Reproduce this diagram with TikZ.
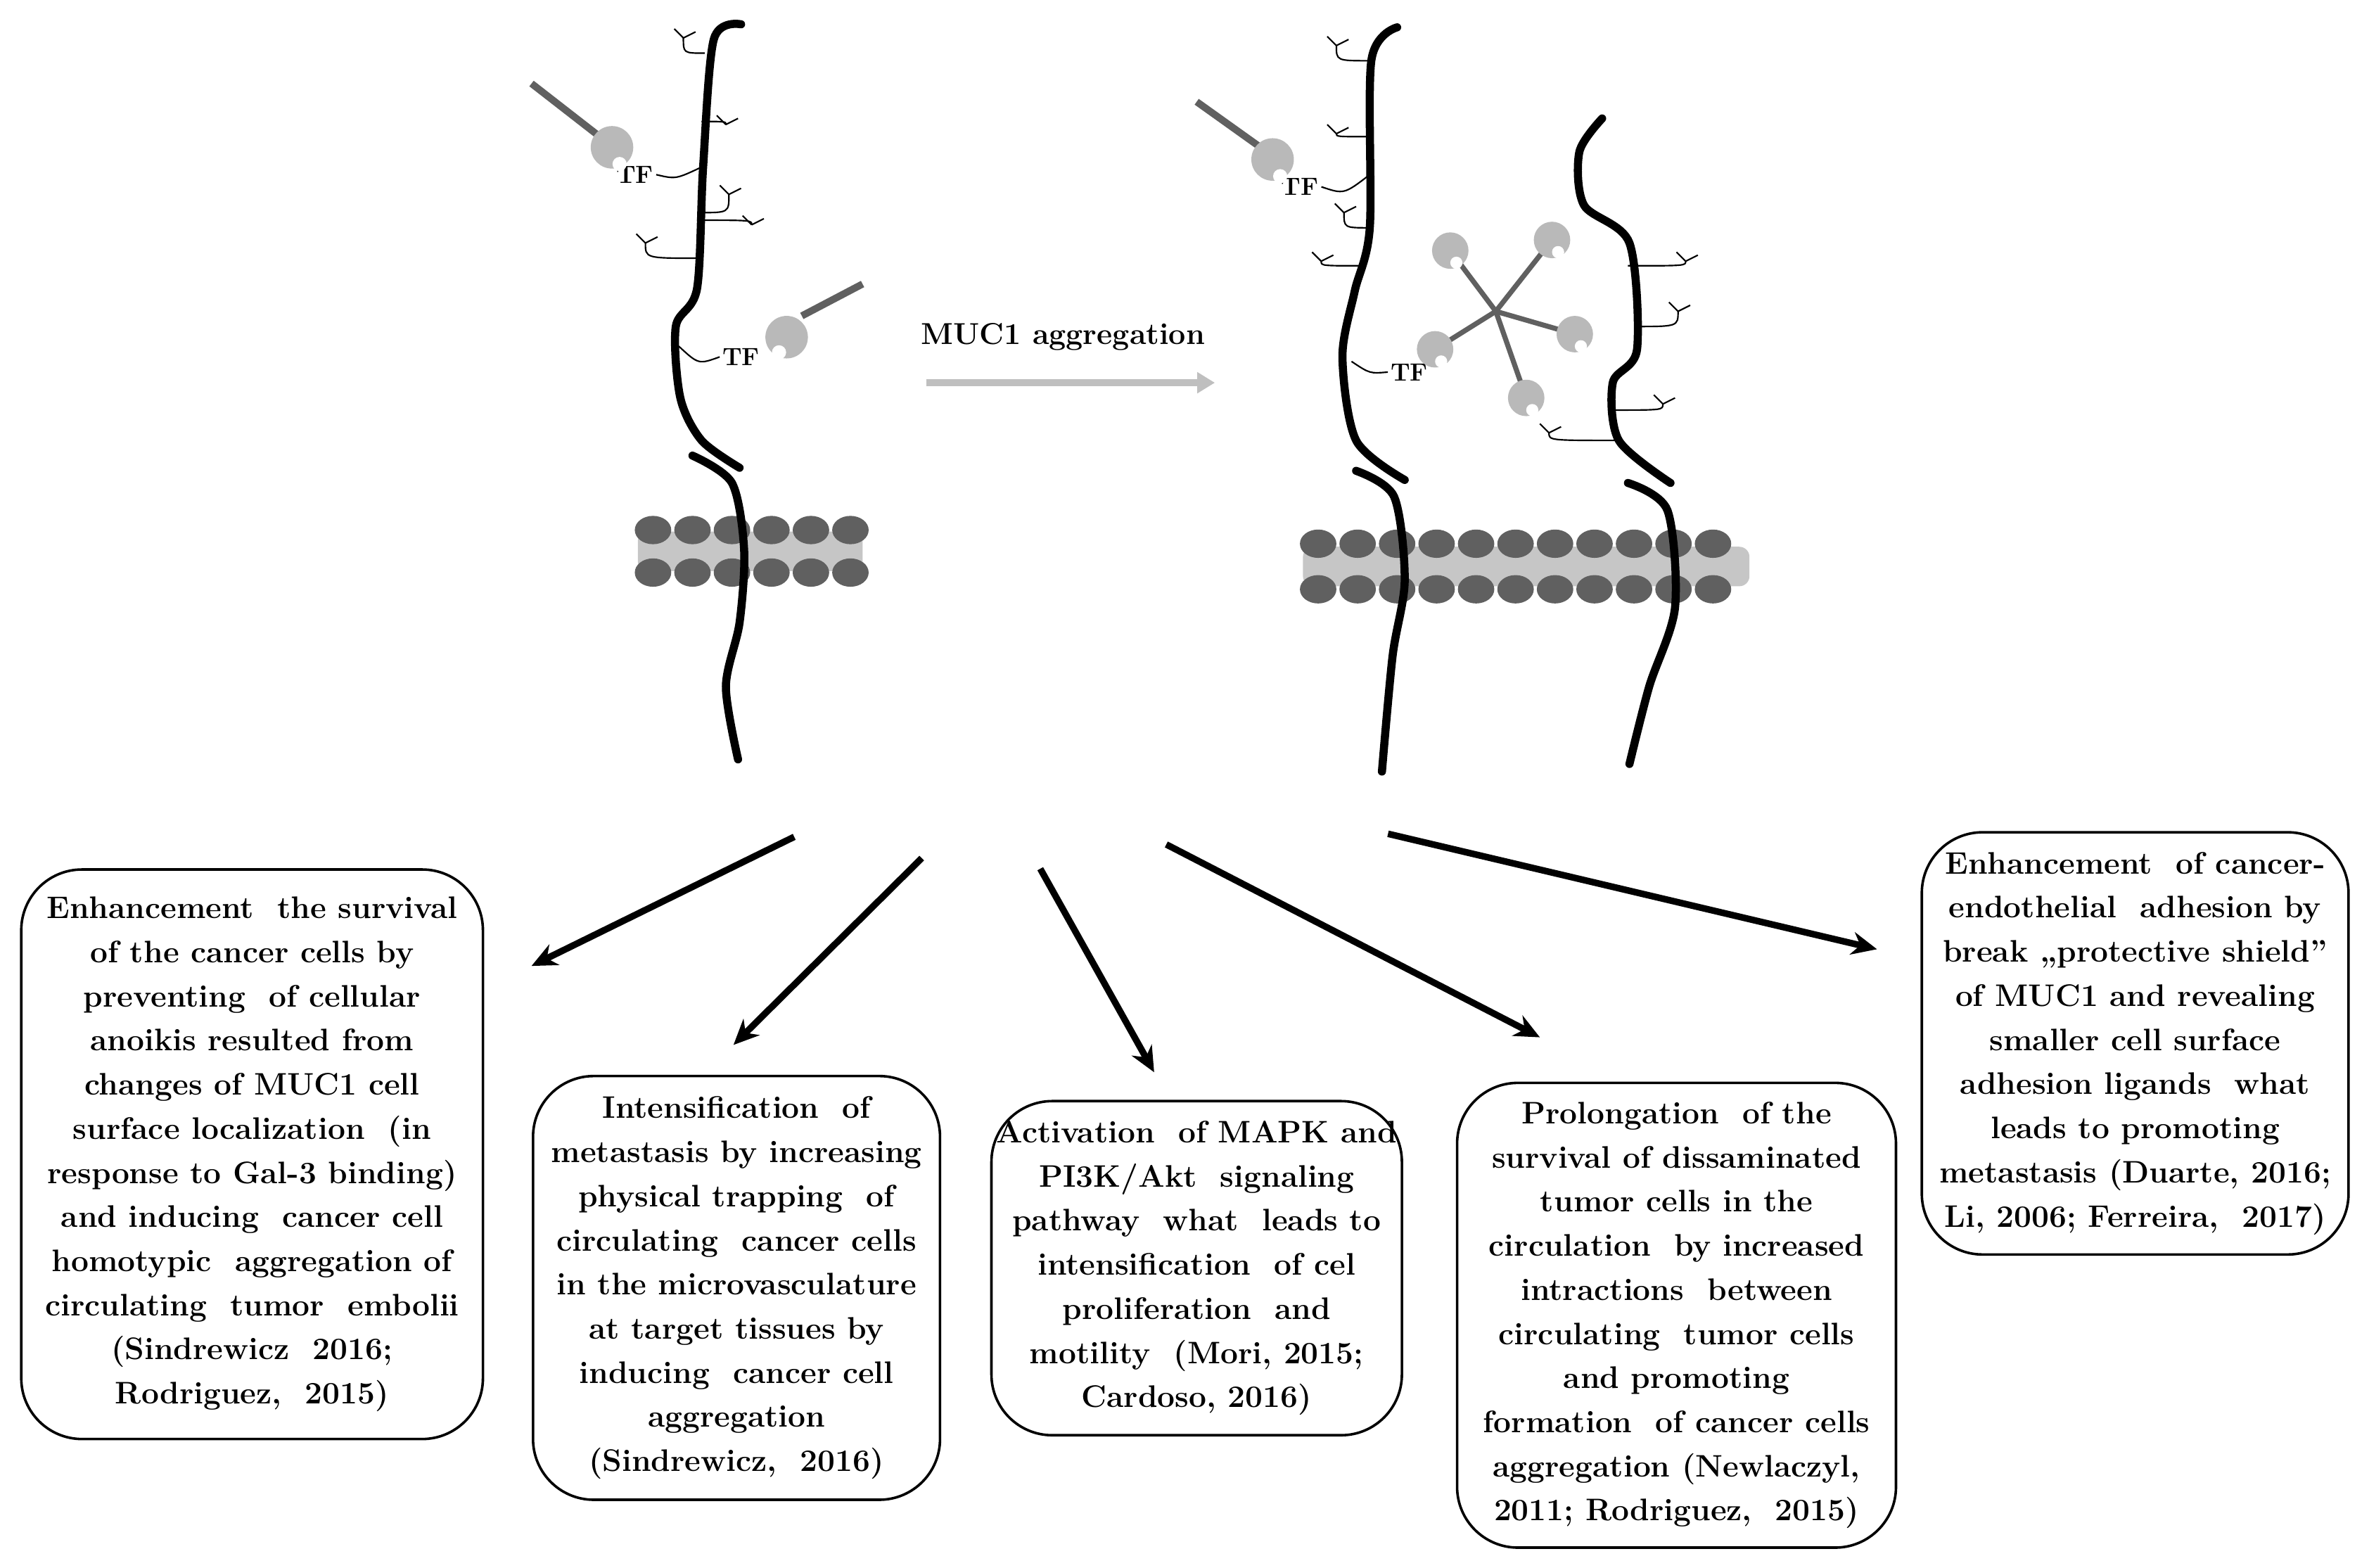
\documentclass[tikz,border=0pt]{standalone}
\usetikzlibrary{arrows.meta}
\begin{document}
\begin{tikzpicture}[x=0.3mm,y=-0.3mm,
 box/.style={draw,rounded corners=12mm,line width=0.5mm,align=center,font=\bfseries\fontsize{17.5}{24.8}\selectfont,inner sep=1mm},
 arr/.style={line width=1.3mm,-{Stealth[length=5mm,width=4.5mm]}},
 cell/.style={line width=1.6mm,line cap=round},
 br/.style={line width=0.3mm},
 blob/.style={fill=gray!55},
 stick/.style={gray!75!black,line width=1.4mm},
 lab/.style={font=\bfseries\fontsize{14}{16}\selectfont,inner sep=0.5mm}]
\useasboundingbox (0,0) rectangle (1560,1032);
% membranes
\fill[gray!45,rounded corners=2mm] (420,350) rectangle (568,376);
\fill[gray!45,rounded corners=2mm] (858,360) rectangle (1152,386);
\foreach \x in {430,456,...,560}{\fill[gray!75!black] (\x,349) ellipse (3.6mm and 2.8mm);\fill[gray!75!black] (\x,377) ellipse (3.6mm and 2.8mm);}
\foreach \x in {868,894,...,1140}{\fill[gray!75!black] (\x,358) ellipse (3.6mm and 2.8mm);\fill[gray!75!black] (\x,388) ellipse (3.6mm and 2.8mm);}
% cells
\draw[cell] plot[smooth] coordinates{(488,16)(470,26)(463,110)(459,190)(445,215)(448,262)(462,290)(487,308)};
\draw[cell] plot[smooth] coordinates{(456,300)(482,318)(490,362)(487,410)(478,452)(486,500)};
\draw[cell] plot[smooth] coordinates{(920,18)(903,40)(902,150)(892,192)(884,235)(893,290)(925,316)};
\draw[cell] plot[smooth] coordinates{(893,310)(918,327)(925,382)(917,432)(910,508)};
\draw[cell] plot[smooth] coordinates{(1055,78)(1040,100)(1043,135)(1073,160)(1078,230)(1062,252)(1066,290)(1100,318)};
\draw[cell] plot[smooth] coordinates{(1072,318)(1098,336)(1103,400)(1086,452)(1073,503)};
% branches
\foreach \a/\b/\c/\d in {464/35/450/25,462/80/478/82,461/140/480/128,459/170/425/160,459/145/495/148,902/40/880/30,902/90/880/88,902/150/885/140,897/175/870/172,1072/175/1110/172,1076/215/1105/205,1063/270/1095/266,1066/290/1020/285}
{\draw[br] (\a,\b) .. controls (\c,\b) .. (\c,\d); \draw[br] (\c,\d)--++(-6,-6) (\c,\d)--++(8,-4);}
% TF links
\node[lab] (tf1) at (418,115) {TF};
\draw[br] (462,110) .. controls (445,118) .. (tf1.east);
\node[lab] (tf2) at (488,235) {TF};
\draw[br] (447,228)..controls (460,240)..(tf2.west);
\node[lab] (tf3) at (856,123) {TF};
\draw[br] (902,115)..controls (885,128)..(tf3.east);
\node[lab] (tf4) at (928,245) {TF};
\draw[br] (890,238)..controls (902,246)..(tf4.west);
% glycoproteins
\draw[stick] (350,55)--(395,90); \fill[blob] (403,97) circle (4.2mm); \fill[white] (408,108) circle (1.4mm);
\draw[stick] (568,187)--(528,208); \fill[blob] (518,222) circle (4.2mm); \fill[white] (513,232) circle (1.4mm);
\draw[stick] (788,67)--(830,97); \fill[blob] (838,105) circle (4.2mm); \fill[white] (843,116) circle (1.4mm);
\foreach \x/\y in {955/165,1022/158,1037/220,945/230,1005/262}{
 \draw[gray!75!black,line width=1mm] (985,205)--(\x,\y); \fill[blob] (\x,\y) circle (3.6mm); \fill[white] (\x+4,\y+8) circle (1.2mm);}
% aggregation arrow
\node[font=\bfseries\fontsize{17}{20}\selectfont] (agg) at (700,222) {MUC1 aggregation};
\draw[gray!50,line width=1.4mm,-{Triangle[length=3.5mm,width=4mm]}] (610,252) -- (800,252);
% boxes
\node[box,minimum width=304*0.3mm,minimum height=375*0.3mm] (b1) at (166,760) {Enhancement\ \ the survival\\of the cancer cells by\\preventing\ \ of cellular\\anoikis resulted from\\changes of MUC1 cell\\surface localization\ \ (in\\response to Gal-3 binding)\\and inducing\ \ cancer cell\\homotypic\ \ aggregation of\\circulating\ \ tumor\ \ embolii\\(Sindrewicz\ \ 2016;\\Rodriguez,\ \ 2015)};
\node[box,minimum width=268*0.3mm,minimum height=279*0.3mm] (b2) at (485,848) {Intensification\ \ of\\metastasis by increasing\\physical trapping\ \ of\\circulating\ \ cancer cells\\in the microvasculature\\at target tissues by\\inducing\ \ cancer cell\\aggregation\\(Sindrewicz,\ \ 2016)};
\node[box,minimum width=266*0.3mm,minimum height=220*0.3mm] (b3) at (788,835) {Activation\ \ of MAPK and\\PI3K/Akt\ \ signaling\\pathway\ \ what\ \ leads to\\intensification\ \ of cel\\proliferation\ \ and\\motility\ \ (Mori, 2015;\\Cardoso, 2016)};
\node[box,minimum width=289*0.3mm,minimum height=306*0.3mm] (b4) at (1104,866) {Prolongation\ \ of the\\survival of dissaminated\\tumor cells in the\\circulation\ \ by increased\\intractions\ \ between\\circulating\ \ tumor cells\\and promoting\\formation\ \ of cancer cells\\aggregation (Newlaczyl,\\2011; Rodriguez,\ \ 2015)};
\node[box,minimum width=281*0.3mm,minimum height=278*0.3mm] (b5) at (1406,687) {Enhancement\ \ of cancer-\\endothelial\ \ adhesion by\\break ,,protective shield''\\of MUC1 and revealing\\smaller cell surface\\adhesion ligands\ \ what\\leads to promoting\\metastasis (Duarte, 2016;\\Li, 2006; Ferreira,\ \ 2017)};
% arrows
\coordinate (s1) at (523,551); \coordinate (s2) at (607,565); \coordinate (s3) at (685,572); \coordinate (s4) at (768,556); \coordinate (s5) at (914,549);
\coordinate (e1) at (350,636); \coordinate (e2) at (483,688); \coordinate (e3) at (760,706); \coordinate (e4) at (1014,683); \coordinate (e5) at (1236,625);
\foreach \i in {1,...,5}{\draw[arr] (s\i)--(e\i);}
\end{tikzpicture}
\end{document}
